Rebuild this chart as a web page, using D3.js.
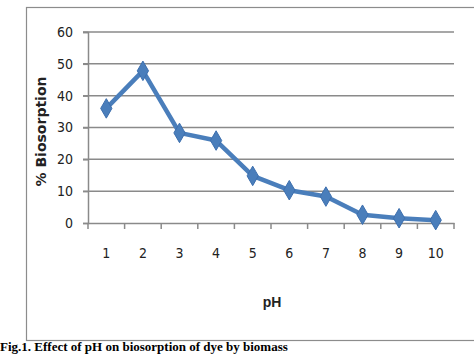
<!DOCTYPE html>
<html>
<head>
<meta charset="utf-8">
<script src="https://cdn.jsdelivr.net/npm/d3@7"></script>
<style>
  body { margin: 0; background: #fff; }
  svg { display: block; }
</style>
</head>
<body>
<div id="vis"></div>
<script>
// data
var phValues = [1, 2, 3, 4, 5, 6, 7, 8, 9, 10];
var biosorption = [36, 47.8, 28.3, 25.9, 14.8, 10.3, 8.3, 2.6, 1.5, 0.9];
var yTicks = [0, 10, 20, 30, 40, 50, 60];

var width = 474, height = 354;
var plot = {left: 88, right: 454, top: 32, bottom: 223};

var svg = d3.select("#vis").append("svg")
    .attr("width", width)
    .attr("height", height);

// outer chart box
svg.append("rect")
    .attr("x", 26.5).attr("y", 7.5)
    .attr("width", 470).attr("height", 333)
    .attr("fill", "#fff")
    .attr("stroke", "#8c8c8c")
    .attr("stroke-width", 1.2);

var x = d3.scaleBand()
    .domain(phValues)
    .range([plot.left, plot.right]);

var y = d3.scaleLinear()
    .domain([0, 60])
    .range([plot.bottom, plot.top]);

// gridlines
svg.append("g")
  .selectAll("line")
  .data(yTicks.filter(function(d) { return d > 0 }))
  .enter().append("line")
    .attr("x1", plot.left - 5)
    .attr("x2", plot.right)
    .attr("y1", function(d) { return y(d) })
    .attr("y2", function(d) { return y(d) })
    .attr("stroke", "#8a8a8a")
    .attr("stroke-width", 1.5);

// y axis
var yAxis = svg.append("g")
    .attr("transform", "translate(" + plot.left + ",0)")
    .call(d3.axisLeft(y).tickValues(yTicks).tickSize(5).tickPadding(10));
yAxis.select(".domain").attr("stroke", "#8a8a8a").attr("stroke-width", 1.5);
yAxis.selectAll(".tick line").attr("stroke", "#8a8a8a").attr("stroke-width", 1.5);
yAxis.selectAll("text")
    .attr("fill", "#222")
    .style("font-family", "'Liberation Sans Narrow', 'DejaVu Sans Condensed', sans-serif")
    .style("font-size", "14px");

// x axis
var xAxis = svg.append("g")
    .attr("transform", "translate(0," + plot.bottom + ")")
    .call(d3.axisBottom(x).tickSize(0).tickPadding(25));
xAxis.select(".domain").attr("stroke", "#8a8a8a").attr("stroke-width", 1.5);
xAxis.selectAll("text")
    .attr("fill", "#222")
    .style("font-family", "'Liberation Sans Narrow', 'DejaVu Sans Condensed', sans-serif")
    .style("font-size", "14px");

// category boundary ticks
svg.append("g")
  .selectAll("line")
  .data(phValues.concat(["end"]))
  .enter().append("line")
    .attr("x1", function(d) { return d === "end" ? plot.right : x(d) })
    .attr("x2", function(d) { return d === "end" ? plot.right : x(d) })
    .attr("y1", plot.bottom)
    .attr("y2", plot.bottom + 6)
    .attr("stroke", "#8a8a8a")
    .attr("stroke-width", 1.5);

// axis titles
svg.append("text")
    .attr("transform", "translate(46," + ((plot.top + plot.bottom) / 2 + 4) + ") rotate(-90)")
    .attr("text-anchor", "middle")
    .attr("fill", "#222")
    .style("font-family", "'DejaVu Sans', sans-serif")
    .style("font-size", "14px")
    .style("font-weight", "bold")
    .text("% Biosorption");

svg.append("text")
    .attr("x", 272)
    .attr("y", 307)
    .attr("text-anchor", "middle")
    .attr("fill", "#222")
    .style("font-family", "'Liberation Sans', sans-serif")
    .style("font-size", "14px")
    .style("font-weight", "bold")
    .text("pH");

// series
var line = d3.line()
    .x(function(d, i) { return x(phValues[i]) + x.bandwidth() / 2 })
    .y(function(d) { return y(d) });

svg.append("path")
    .datum(biosorption)
    .attr("d", line)
    .attr("fill", "none")
    .attr("stroke", "#4a7ebb")
    .attr("stroke-width", 4.5)
    .attr("stroke-linejoin", "round");

svg.append("g")
  .selectAll("path")
  .data(biosorption)
  .enter().append("path")
    .attr("d", d3.symbol().type(d3.symbolDiamond).size(110))
    .attr("transform", function(d, i) {
        return "translate(" + (x(phValues[i]) + x.bandwidth() / 2) + "," + y(d) + ")" })
    .attr("fill", "#4a7ebb")
    .attr("stroke", "#3d6fae")
    .attr("stroke-width", 1);

// caption below the chart box
svg.append("text")
    .attr("x", 0)
    .attr("y", 351)
    .attr("fill", "#000")
    .style("font-family", "'Liberation Serif', serif")
    .style("font-size", "13px")
    .style("font-weight", "bold")
    .text("Fig.1. Effect of pH on biosorption of dye by biomass");
</script>
</body>
</html>
